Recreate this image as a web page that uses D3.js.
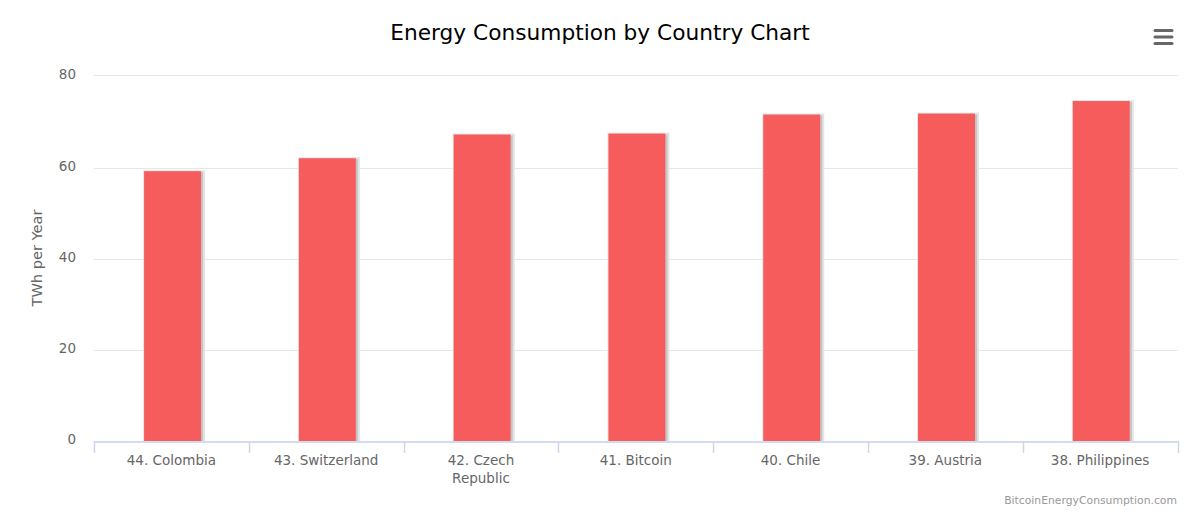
<!DOCTYPE html>
<html>
<head>
<meta charset="utf-8">
<script src="https://cdn.jsdelivr.net/npm/d3@7"></script>
<style>
  html, body { margin: 0; padding: 0; background: #fff; overflow: hidden; }
  text { font-family: "DejaVu Sans", sans-serif; }
</style>
</head>
<body>
<div id="chart"></div>
<script>
// values
const countries = ["44. Colombia", "43. Switzerland", "42. Czech Republic", "41. Bitcoin", "40. Chile", "39. Austria", "38. Philippines"];
const twhPerYear = [59.3, 62.1, 67.2, 67.4, 71.5, 71.7, 74.4];
const yTicks = [0, 20, 40, 60, 80];

const svgWidth = 1200;
const svgHeight = 525;
const plotLeft = 94, plotRight = 1177.5, plotBottom = 441;

const svg = d3.select("#chart")
  .append("svg")
    .attr("width", svgWidth)
    .attr("height", svgHeight);

const x = d3.scaleBand().domain(countries).range([plotLeft, plotRight]);
// the top grid interval is a bit taller in the reference
const y = d3.scaleLinear().domain([0, 60, 80]).range([plotBottom, 168, 75]);
const barWidth = 57;

const barX = (d, i) => x(countries[i]) + (x.bandwidth() - barWidth) / 2 + 1.2;

// grid lines
svg.selectAll(".grid")
  .data(yTicks.slice(1))
  .enter()
  .append("line")
    .attr("class", "grid")
    .attr("x1", plotLeft)
    .attr("x2", plotRight)
    .attr("y1", d => Math.round(y(d)) + 0.5)
    .attr("y2", d => Math.round(y(d)) + 0.5)
    .style("stroke", "#e6e6e6");

// y labels
svg.selectAll(".ylabel")
  .data(yTicks)
  .enter()
  .append("text")
    .attr("class", "ylabel")
    .attr("x", 76)
    .attr("y", d => y(d) + (d === 80 ? 4 : 3))
    .attr("text-anchor", "end")
    .style("font-size", "13.5px")
    .style("fill", "#666")
    .text(d => d);

svg.append("text")
  .attr("transform", "translate(42,258) rotate(-90)")
  .attr("text-anchor", "middle")
  .style("font-size", "14.6px")
  .style("fill", "#666")
  .text("TWh per Year");

// bar shadows
svg.selectAll(".shadow")
  .data(twhPerYear)
  .enter()
  .append("rect")
    .attr("class", "shadow")
    .attr("x", (d, i) => barX(d, i) - 1)
    .attr("y", d => y(d) - 1)
    .attr("width", barWidth + 5)
    .attr("height", d => plotBottom - y(d) + 1)
    .style("fill", "#e4e4e4");

svg.selectAll(".shadow2")
  .data(twhPerYear)
  .enter()
  .append("rect")
    .attr("class", "shadow2")
    .attr("x", (d, i) => barX(d, i) + barWidth)
    .attr("y", d => y(d) + 1)
    .attr("width", 2)
    .attr("height", d => plotBottom - y(d) - 1)
    .style("fill", "#c4c4c4");

// bars
svg.selectAll(".bar")
  .data(twhPerYear)
  .enter()
  .append("rect")
    .attr("class", "bar")
    .attr("x", barX)
    .attr("y", d => y(d))
    .attr("width", barWidth)
    .attr("height", d => plotBottom - y(d))
    .style("fill", "#f75c5c");

// x axis
const xAxis = svg.append("g");
xAxis.append("line")
  .attr("x1", plotLeft).attr("x2", plotRight)
  .attr("y1", plotBottom + 1).attr("y2", plotBottom + 1)
  .style("stroke", "#d3dcee").style("stroke-width", 2);

const tickPos = countries.map(c => x(c)).concat([plotRight]);
xAxis.selectAll(".tick")
  .data(tickPos)
  .enter()
  .append("line")
    .attr("x1", d => Math.round(d) + 0.5)
    .attr("x2", d => Math.round(d) + 0.5)
    .attr("y1", plotBottom)
    .attr("y2", plotBottom + 12)
    .style("stroke", "#ccd6eb")
    .style("stroke-width", 1.5);

// x labels, wrap the long one
xAxis.selectAll(".xlabel")
  .data(countries)
  .enter()
  .append("text")
    .attr("class", "xlabel")
    .attr("text-anchor", "middle")
    .attr("y", 464.5)
    .style("font-size", "13.5px")
    .style("fill", "#666")
    .each(function(d) {
      const lines = d === "42. Czech Republic" ? ["42. Czech", "Republic"] : [d];
      d3.select(this).selectAll("tspan")
        .data(lines)
        .enter()
        .append("tspan")
          .attr("x", x(d) + x.bandwidth() / 2)
          .attr("dy", (l, i) => i ? 18 : 0)
          .text(l => l);
    });

// title
svg.append("text")
  .attr("x", 600)
  .attr("y", 40)
  .attr("text-anchor", "middle")
  .style("font-size", "21.7px")
  .style("fill", "#000")
  .text("Energy Consumption by Country Chart");

// menu icon
svg.selectAll(".menu")
  .data([0, 1, 2])
  .enter()
  .append("line")
    .attr("x1", 1155)
    .attr("x2", 1172)
    .attr("y1", d => 30.5 + d * 6.5)
    .attr("y2", d => 30.5 + d * 6.5)
    .style("stroke", "#666")
    .style("stroke-width", 3)
    .style("stroke-linecap", "round");

// credit
svg.append("text")
  .attr("x", 1177)
  .attr("y", 504)
  .attr("text-anchor", "end")
  .style("font-size", "10.8px")
  .style("fill", "#999")
  .text("BitcoinEnergyConsumption.com");
</script>
</body>
</html>
